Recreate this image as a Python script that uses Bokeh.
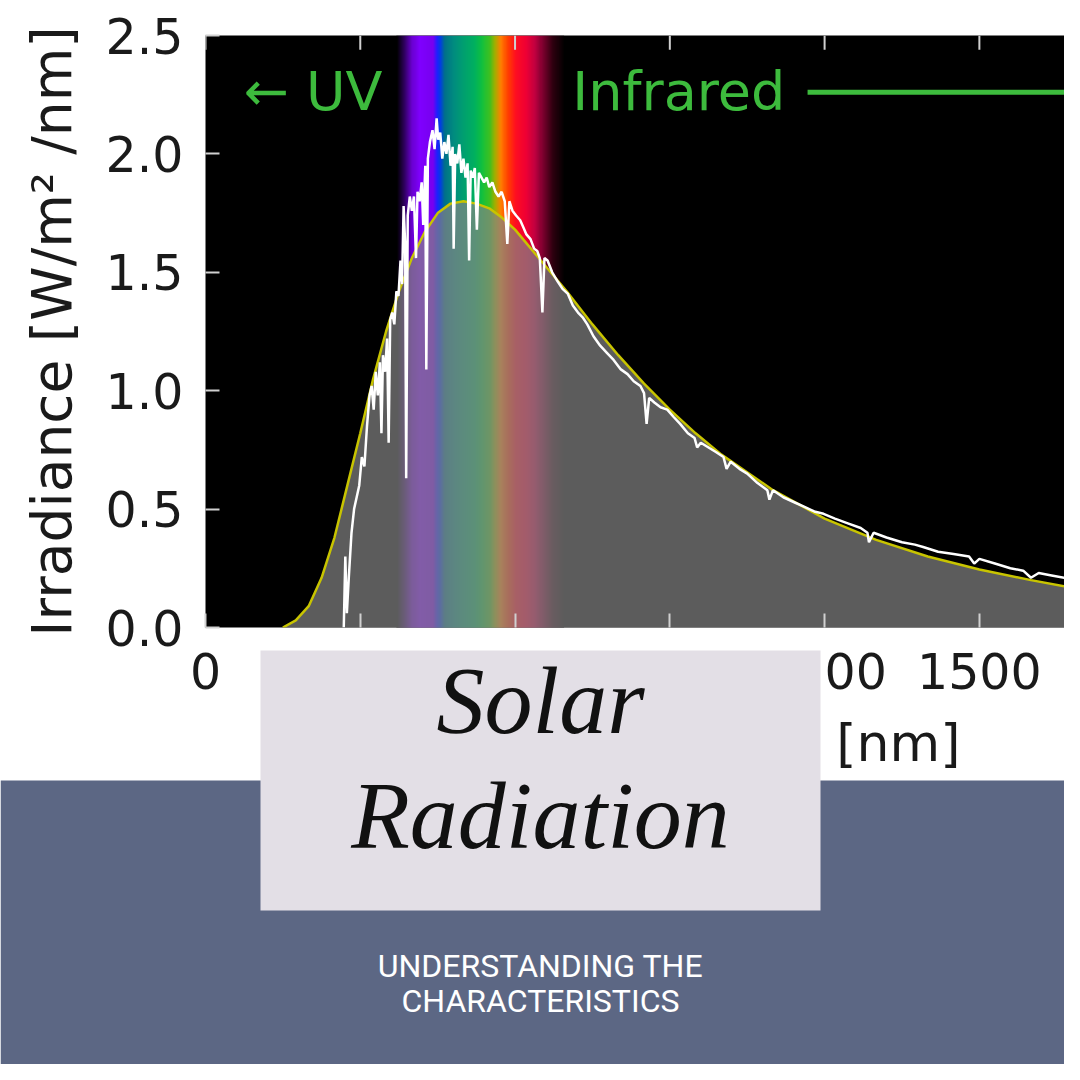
import numpy as np
from bokeh.plotting import figure
from bokeh.layouts import column
from bokeh.models import Range1d, FixedTicker, PrintfTickFormatter
from bokeh.core.properties import value
from bokeh.embed import file_html
from bokeh.resources import INLINE

# ---------------- data ----------------
x_ticks = [0, 300, 600, 900, 1200, 1500, 1800]
y_ticks = [0.0, 0.5, 1.0, 1.5, 2.0, 2.5]

# black-body reference curve (yellow)
wl_bb = [150, 175, 200, 225, 250, 275, 300, 325, 350, 375, 400, 425, 450, 475,
         500, 525, 550, 575, 600, 650, 700, 750, 800, 850, 900, 950, 1000,
         1100, 1200, 1300, 1400, 1500, 1600, 1700, 1800]
irr_bb = [0.00, 0.03, 0.09, 0.21, 0.38, 0.60, 0.82, 1.05, 1.25, 1.42, 1.56, 1.67,
          1.75, 1.79, 1.80, 1.79, 1.77, 1.73, 1.68, 1.55, 1.42, 1.28, 1.15, 1.03,
          0.92, 0.82, 0.73, 0.58, 0.46, 0.37, 0.30, 0.245, 0.20, 0.16, 0.13]

# measured solar spectrum (white)
wl_meas = [268, 271, 274, 278, 283, 288, 293, 298, 303, 308, 313, 318, 322, 326,
           330, 334, 338, 341, 344, 348, 352, 355, 358, 362, 366, 370, 374, 378,
           381, 384, 387, 389, 392, 396, 400, 404, 408, 411, 415, 419, 422, 426,
           428, 431, 435, 440, 444, 448, 451, 455, 459, 463, 467, 471, 475, 479,
           481, 484, 488, 492, 496, 500, 504, 508, 511, 514, 518, 522, 526, 530,
           535, 540, 545, 550, 556, 562, 568, 574, 580, 585, 589, 595, 602, 610,
           616, 622, 630, 637, 643, 648, 653, 657, 663, 672, 683, 692, 702, 712,
           722, 731, 740, 752, 765, 778, 791, 805, 818, 830, 843, 850, 855, 860,
           870, 882, 895, 907, 920, 935, 948, 953, 960, 975, 990, 1004, 1010,
           1018, 1035, 1050, 1070, 1089, 1093, 1100, 1120, 1140, 1160, 1180,
           1198, 1220, 1245, 1270, 1283, 1286, 1295, 1320, 1350, 1375, 1391,
           1420, 1450, 1480, 1490, 1500, 1530, 1560, 1585, 1600, 1615, 1640,
           1665, 1690]
irr_meas = [0.00, 0.30, 0.06, 0.22, 0.40, 0.50, 0.55, 0.60, 0.72, 0.68, 0.85, 0.98,
            1.02, 0.92, 1.08, 0.98, 1.12, 0.82, 1.15, 1.08, 1.22, 0.78, 1.30, 1.33,
            1.28, 1.42, 1.40, 1.55, 1.45, 1.78, 1.62, 0.63, 1.74, 1.82, 1.76, 1.82,
            1.56, 1.84, 1.80, 1.88, 1.70, 1.95, 1.09, 1.98, 2.05, 2.10, 2.02, 2.15,
            2.06, 2.09, 1.98, 2.05, 2.00, 2.08, 1.95, 2.03, 1.60, 2.00, 1.96, 2.04,
            1.92, 1.98, 1.90, 1.96, 1.55, 1.93, 1.90, 1.94, 1.68, 1.92, 1.90, 1.88,
            1.90, 1.86, 1.88, 1.84, 1.82, 1.84, 1.80, 1.62, 1.80, 1.76, 1.74, 1.72,
            1.69, 1.66, 1.64, 1.60, 1.59, 1.56, 1.33, 1.56, 1.55, 1.50, 1.46, 1.43,
            1.41, 1.36, 1.33, 1.31, 1.28, 1.23, 1.19, 1.16, 1.13, 1.09, 1.07, 1.04,
            1.02, 0.99, 0.86, 0.97, 0.95, 0.93, 0.92, 0.89, 0.86, 0.82, 0.80, 0.76,
            0.78, 0.76, 0.74, 0.72, 0.67, 0.70, 0.67, 0.65, 0.61, 0.58, 0.54, 0.58,
            0.55, 0.53, 0.51, 0.49, 0.48, 0.46, 0.44, 0.42, 0.40, 0.36, 0.40, 0.38,
            0.36, 0.35, 0.34, 0.32, 0.31, 0.30, 0.27, 0.29, 0.27, 0.25, 0.24, 0.21,
            0.23, 0.22, 0.21, 0.20]

# visible-spectrum colour stops
spec_nm = [370, 385, 400, 415, 440, 448, 455, 463, 480, 500, 520, 535, 550, 560,
           572, 585, 600, 620, 638, 652, 672, 695]
spec_hex = ["#000000", "#300060", "#6a00d0", "#8000ff", "#7800f0", "#2020ff",
            "#0040e0", "#00708a", "#008c80", "#00a070", "#00b060", "#10c040",
            "#40c020", "#a0b000", "#ff8000", "#ff4000", "#ff1020", "#f00035",
            "#c00040", "#800030", "#300010", "#000000"]

# title-card texts
card_title = ["Solar", "Radiation"]
card_sub = ["UNDERSTANDING THE", "CHARACTERISTICS"]

W = H = 1064
AX = "#1a1a1a"
FONT = "DejaVu Sans"
Y_MAX = 2.5

# ---------------- chart ----------------
p = figure(width=W, height=H, output_backend="svg", toolbar_location=None,
           x_range=Range1d(0, 1665), y_range=Range1d(0, Y_MAX),
           min_border_left=205, min_border_right=0, min_border_top=35,
           min_border_bottom=437)
p.frame_align = False
p.background_fill_color = "black"
p.border_fill_color = "white"
p.outline_line_color = None
p.grid.visible = False

grid = np.arange(spec_nm[0], spec_nm[-1] + 1)
rgb = np.array([[int(h[i:i + 2], 16) for i in (1, 3, 5)] for h in spec_hex], dtype=float)
img = np.empty((1, len(grid)), dtype=np.uint32)
view = img.view(dtype=np.uint8).reshape((1, len(grid), 4))
for c in range(3):
    view[0, :, c] = np.interp(grid, spec_nm, rgb[:, c]).astype(np.uint8)
view[0, :, 3] = 255
p.image_rgba(image=[img], x=spec_nm[0], y=0, dw=spec_nm[-1] - spec_nm[0], dh=Y_MAX)

p.varea(x=wl_bb, y1=0, y2=irr_bb, fill_color="#838383", fill_alpha=0.7)
p.line(wl_bb, irr_bb, line_color="#c8c400", line_width=2.5)
p.line(wl_meas, irr_meas, line_color="white", line_width=2.5)

GREEN = "#3dbb3d"
p.text(x=[74], y=[2.264], text=["\u2190 UV"], text_font=value(FONT),
       text_font_size="54px", text_color=GREEN, text_baseline="middle")
p.text(x=[711], y=[2.264], text=["Infrared"], text_font=value(FONT),
       text_font_size="54px", text_color=GREEN, text_baseline="middle")
p.segment(x0=[1167], y0=[2.26], x1=[1800], y1=[2.26], line_color=GREEN, line_width=5)

# inward tick marks along the top edge
p.segment(x0=x_ticks, y0=[Y_MAX - 0.06] * len(x_ticks), x1=x_ticks,
          y1=[Y_MAX] * len(x_ticks), line_color="#d0d0d0", line_width=2)

xa = p.xaxis[0]
ya = p.yaxis[0]
xa.ticker = FixedTicker(ticks=x_ticks)
ya.ticker = FixedTicker(ticks=y_ticks)
ya.formatter = PrintfTickFormatter(format="%.1f")
for ax in (xa, ya):
    ax.axis_line_color = None
    ax.major_tick_in = 14
    ax.major_tick_out = 0
    ax.major_tick_line_color = "#d0d0d0"
    ax.major_tick_line_width = 2
    ax.minor_tick_line_color = None
    ax.major_label_text_font = FONT
    ax.major_label_text_font_size = "49px"
    ax.major_label_text_color = AX
xa.major_label_standoff = 25
ya.major_label_standoff = 22
ya.axis_label = "Irradiance [W/m\u00b2 /nm]"
ya.axis_label_text_font = FONT
ya.axis_label_text_font_size = "55px"
ya.axis_label_text_font_style = "normal"
ya.axis_label_text_color = AX
ya.axis_label_standoff = 19

# ---------------- overlay: x title, band and title card ----------------
o = figure(width=W, height=H, output_backend="svg", toolbar_location=None,
           x_range=Range1d(0, W), y_range=Range1d(H, 0),
           x_axis_location=None, y_axis_location=None, min_border=0)
o.frame_align = False
o.margin = (-H, 0, 0, 0)
o.background_fill_color = None
o.border_fill_color = None
o.outline_line_color = None
o.grid.visible = False

o.text(x=[960], y=[742], text=["Wavelength [nm]"], text_font=value(FONT),
       text_font_size="52px", text_color=AX, text_align="right",
       text_baseline="middle")
o.quad(left=[0], right=[W], top=[780], bottom=[H], fill_color="#5c6784",
       line_color=None)
o.quad(left=[260], right=[820], top=[650], bottom=[910], fill_color="#e3dfe6",
       line_color=None)
o.text(x=[540, 540], y=[700, 815], text=card_title,
       text_font=value("Liberation Serif"), text_font_style="italic",
       text_font_size="96px", text_color="#111111", text_align="center",
       text_baseline="middle")
o.text(x=[540, 540], y=[965, 1000], text=card_sub, text_font=value("Roboto"),
       text_font_size="32px", text_color="white", text_align="center",
       text_baseline="middle")

layout = column(p, o, spacing=0)
open("out.html", "w").write(file_html(layout, INLINE))
